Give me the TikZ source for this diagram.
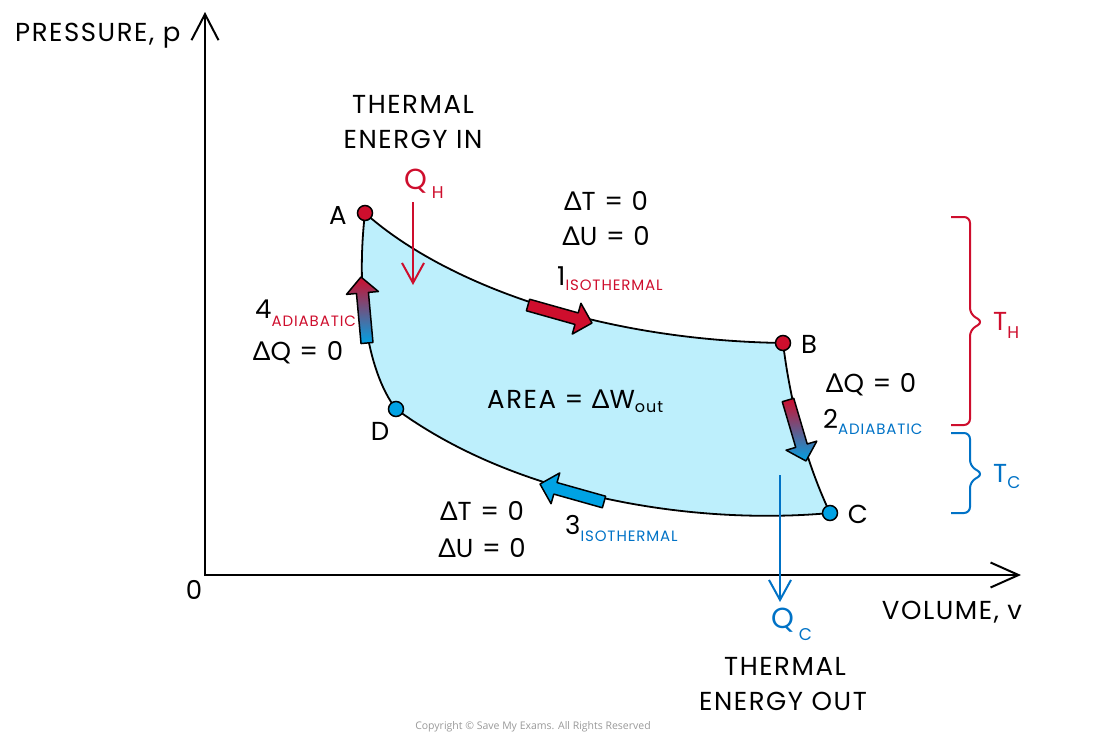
\documentclass[tikz,border=0pt]{standalone}
\usepackage{fontspec}
\setmainfont{Poppins}[LetterSpace=6]
\newfontfamily\dfont{Lato}
\newfontfamily\cfont{Open Sans}
\usetikzlibrary{arrows.meta,calc}
\definecolor{hotred}{RGB}{206,14,45}
\definecolor{coldblue}{RGB}{0,114,198}
\definecolor{dotblue}{RGB}{0,162,228}
\definecolor{areafill}{RGB}{189,239,252}
\newcommand\dlt{{\dfont Δ}}
\newcommand\blockarrow[3]{%
  \coordinate (hb) at ($(#3)!16pt!(#2)$);
  \path[#1] ($(#2)!6pt!90:(#3)$) -- ($(hb)!6pt!90:(#3)$) -- ($(hb)!16pt!90:(#3)$) -- (#3)
    -- ($(hb)!16pt!-90:(#3)$) -- ($(hb)!6pt!-90:(#3)$) -- ($(#2)!6pt!-90:(#3)$) -- cycle;}
\begin{document}
\begin{tikzpicture}[x=1pt,y=-1pt,
  txt/.style={font=\fontsize{26}{30}\selectfont, inner sep=0pt},
  big/.style={font=\fontsize{29}{32}\selectfont, inner sep=0pt},
  pt/.style={circle, draw=black, line width=1.5pt, minimum size=15pt, inner sep=0pt},
  ptred/.style={pt, fill=hotred},
  ptblue/.style={pt, fill=dotblue},
  axis/.style={line width=2pt, line join=miter},
  qarrow/.style={line width=2pt, -{Straight Barb[length=20pt,width=22pt]}},
  brace/.style={line width=2pt, rounded corners=6pt},
  solidred/.style={draw=black, line width=1.5pt, fill=hotred, line join=round},
  solidblue/.style={draw=black, line width=1.5pt, fill=dotblue, line join=round},
  grad/.style={draw=black, line width=1.5pt, top color=hotred, bottom color=dotblue, line join=round}
]
\useasboundingbox (0,0) rectangle (1100,737);

% axes
\coordinate (O) at (205,575);
\coordinate (ytop) at (205,12);
\coordinate (xend) at (1021,575);
\draw[axis, {Straight Barb[length=26pt,width=27pt]}-{Straight Barb[length=28pt,width=25pt]}] (ytop) -- (O) -- (xend);

% cycle
\coordinate (pA) at (365,213);
\coordinate (pB) at (783,343);
\coordinate (pC) at (830,513);
\coordinate (pD) at (396,409);
\filldraw[fill=areafill, draw=black, line width=1.8pt]
  (pA) .. controls (440,280) and (590,340) .. (pB)
       .. controls (790,400) and (805,460) .. (pC)
       .. controls (700,525) and (520,500) .. (pD)
       .. controls (366,370) and (356,290) .. cycle;

% direction arrows
\coordinate (a1t) at (528,305); \coordinate (a1h) at (592,323);
\coordinate (a2t) at (788,400); \coordinate (a2h) at (806,461);
\coordinate (a3t) at (604,502); \coordinate (a3h) at (540,484);
\coordinate (a4t) at (367,343); \coordinate (a4h) at (361,277);
\blockarrow{solidred}{a1t}{a1h}
\blockarrow{grad}{a2t}{a2h}
\blockarrow{solidblue}{a3t}{a3h}
\blockarrow{grad}{a4t}{a4h}

% state points
\node[ptred] (A) at (pA) {};
\node[ptred] (B) at (pB) {};
\node[ptblue] (C) at (pC) {};
\node[ptblue] (D) at (pD) {};
\node[txt] (Alab) at (338,215) {A};
\node[txt] (Blab) at (809,344) {B};
\node[txt] (Clab) at (858,514) {C};
\node[txt] (Dlab) at (380,431) {D};

% heat arrows
\coordinate (qh1) at (413,202); \coordinate (qh2) at (413,285);
\draw[qarrow, hotred] (qh1) -- (qh2);
\coordinate (qc1) at (780,475); \coordinate (qc2) at (780,602);
\draw[qarrow, coldblue] (qc1) -- (qc2);

% axis labels
\node[txt, anchor=base west] (ylab) at (15,41) {PRESSURE, p};
\node[txt] (zero) at (194,590) {0};
\node[txt, anchor=base] (xlab) at (952,619) {VOLUME, v};

% thermal energy in
\node[txt, anchor=base] (tin1) at (413,113) {THERMAL};
\node[txt, anchor=base] (tin2) at (413,148) {ENERGY IN};
\node[big, anchor=base west, text=hotred] (QH) at (404,189) {Q\,\raisebox{-9pt}{\fontsize{17}{17}\selectfont H}};

% thermal energy out
\node[big, anchor=base west, text=coldblue] (QC) at (771,628) {Q\,\raisebox{-12pt}{\fontsize{17}{17}\selectfont C}};
\node[txt, anchor=base] (tout1) at (785,675) {THERMAL};
\node[txt, anchor=base] (tout2) at (783,710) {ENERGY OUT};

% process 1
\node[txt, anchor=base] (dT1) at (606,210) {\dlt T = 0};
\node[txt, anchor=base] (dU1) at (606,245) {\dlt U = 0};
\node[txt, anchor=base west] (p1) at (557,285) {1\raisebox{-5pt}{\fontsize{15}{15}\selectfont\color{hotred}ISOTHERMAL}};

% process 2
\node[txt, anchor=base] (dQ2) at (871,392) {\dlt Q = 0};
\node[txt, anchor=base west] (p2) at (823,428) {2\raisebox{-6pt}{\fontsize{15}{15}\selectfont\color{coldblue}ADIABATIC}};

% process 3
\node[txt, anchor=base] (dT3) at (482,520) {\dlt T = 0};
\node[txt, anchor=base] (dU3) at (482,557) {\dlt U = 0};
\node[txt, anchor=base west] (p3) at (565,534) {3\raisebox{-7pt}{\fontsize{15}{15}\selectfont\color{coldblue}ISOTHERMAL}};

% process 4
\node[txt, anchor=base west] (p4) at (255,318) {4\raisebox{-8pt}{\fontsize{15}{15}\selectfont\color{hotred}ADIABATIC}};
\node[txt, anchor=base] (dQ4) at (298,360) {\dlt Q = 0};

% area
\node[txt, anchor=base west] (area) at (487,408) {AREA = \dlt W\raisebox{-4pt}{\fontsize{16}{16}\selectfont out}};

% temperature braces
\draw[brace, hotred] (951,217) -- (970,217) -- (970,314) -- (983,322) -- (970,330) -- (970,425) -- (951,425);
\draw[brace, coldblue] (951,433) -- (970,433) -- (970,466) -- (983,474) -- (970,482) -- (970,513) -- (951,513);
\node[txt, anchor=base west, text=hotred] (TH) at (993,330) {T\raisebox{-8pt}{\fontsize{17}{17}\selectfont H}};
\node[txt, anchor=base west, text=coldblue] (TC) at (993,482) {T\raisebox{-6pt}{\fontsize{17}{17}\selectfont C}};

% copyright
\node[inner sep=0pt, text=black!40, font=\cfont\fontsize{10.5}{12}\selectfont] (copy) at (533,727) {Copyright © Save My Exams. All Rights Reserved};
\end{tikzpicture}
\end{document}
